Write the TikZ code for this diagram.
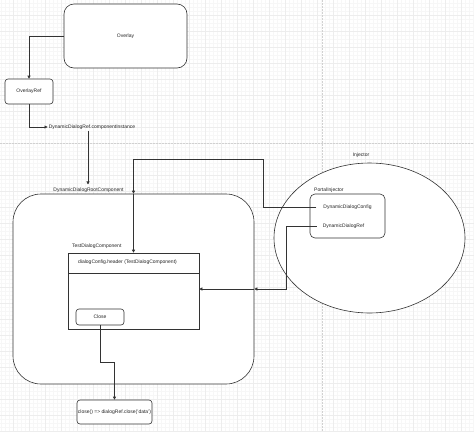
\documentclass[tikz,border=0pt]{standalone}
\usepackage{fontspec}
\setmainfont{Liberation Sans}
\usetikzlibrary{arrows.meta,shapes.geometric}
\begin{document}
\begin{tikzpicture}[x=1pt,y=-1pt,
  every node/.style={font=\fontsize{5}{6}\selectfont, text=black!85},
  shp/.style={draw=black!80, line width=0.6pt, fill=white, inner sep=0pt},
  lbl/.style={inner sep=1pt},
  arr/.style={draw=black!80, line width=0.6pt, -{Triangle[length=3pt,width=3pt]}},
  minorg/.style={draw=black!3, line width=0.3pt},
  majorg/.style={draw=black!7, line width=0.4pt},
  pagebrk/.style={draw=black!18, line width=0.6pt, dash pattern=on 1.5pt off 1.5pt}]
\useasboundingbox (0,0) rectangle (474,432);
\fill[white] (0,0) rectangle (474,432);
% grid
\foreach \x in {1,5,...,473} \draw[minorg] (\x,0) -- (\x,432);
\foreach \y in {3,7,...,431} \draw[minorg] (0,\y) -- (474,\y);
\foreach \x in {13,29,...,473} \draw[majorg] (\x,0) -- (\x,432);
\foreach \y in {15,31,...,431} \draw[majorg] (0,\y) -- (474,\y);
% page breaks
\draw[pagebrk] (0,143) -- (474,143);
\draw[pagebrk] (322,0) -- (322,432);

% Overlay
\node[shp, rounded corners=10pt, minimum width=123pt, minimum height=64pt] (overlay) at (125.5,36) {Overlay};
\node[shp, rounded corners=3pt, minimum width=48pt, minimum height=25pt] (overlayref) at (29,91.5) {OverlayRef};
\node[lbl] (dref) at (92,127) {DynamicDialogRef.componentInstance};

% root component
\node[shp, rounded corners=28pt, minimum width=241pt, minimum height=190pt] (root) at (133.5,289) {};
\node[inner sep=3pt] (rootlbl) at (88.5,190) {DynamicDialogRootComponent};

% test dialog
\node[lbl, anchor=west] (testlbl) at (71,246) {TestDialogComponent};
\node[shp, rectangle, minimum width=131pt, minimum height=76pt] (test) at (133.5,291) {};
\coordinate (hdl) at (68,273);
\coordinate (hdr) at (199,273);
\draw[draw=black!80, line width=0.6pt] (hdl) -- (hdr);
\node[lbl] (hdrtxt) at (127.5,262) {dialogConfig.header (TestDialogComponent)};
\node[shp, rounded corners=3pt, minimum width=48pt, minimum height=16pt] (close) at (100,317) {Close};
\node[shp, rounded corners=3pt, minimum width=75pt, minimum height=24pt] (closefn) at (114.5,412) {close() => dialogRef.close('data')};

% injector
\node[shp, ellipse, minimum width=191pt, minimum height=150pt] (inj) at (369.5,238) {};
\node[lbl] (injlbl) at (361,155) {Injector};
\node[shp, rounded corners=5pt, minimum width=75pt, minimum height=44pt] (portal) at (347.5,216) {};
\node[lbl, anchor=west] (portallbl) at (313,190) {PortalInjector};
\node[inner ysep=1pt, inner xsep=7pt] (ddc) at (347.5,207) {DynamicDialogConfig};
\node[inner ysep=1pt, inner xsep=6pt] (ddr) at (343.5,226) {DynamicDialogRef};

% connectors
\draw[arr] (overlay.west) -- (29,36) -- (overlayref.north);
\draw[arr] (overlayref.south) -- (29,127) -- (dref.west);
\draw[arr] (dref.south -| 88,0) -- (rootlbl.north -| 88,0);
\draw[arr] (ddc.west) -- (263,207) -- (263,159) -- (133.5,159) -- (root.north);
\draw[arr] (root.north) -- (test.north);
\draw[arr] (ddr.west) -- (286,226) -- (286,289) -- (root.east);
\draw[arr] (root.east) -- (test.east |- root.east);
\draw[arr] (close.south) -- (100,362) -- (114.5,362) -- (closefn.north);
\end{tikzpicture}
\end{document}
